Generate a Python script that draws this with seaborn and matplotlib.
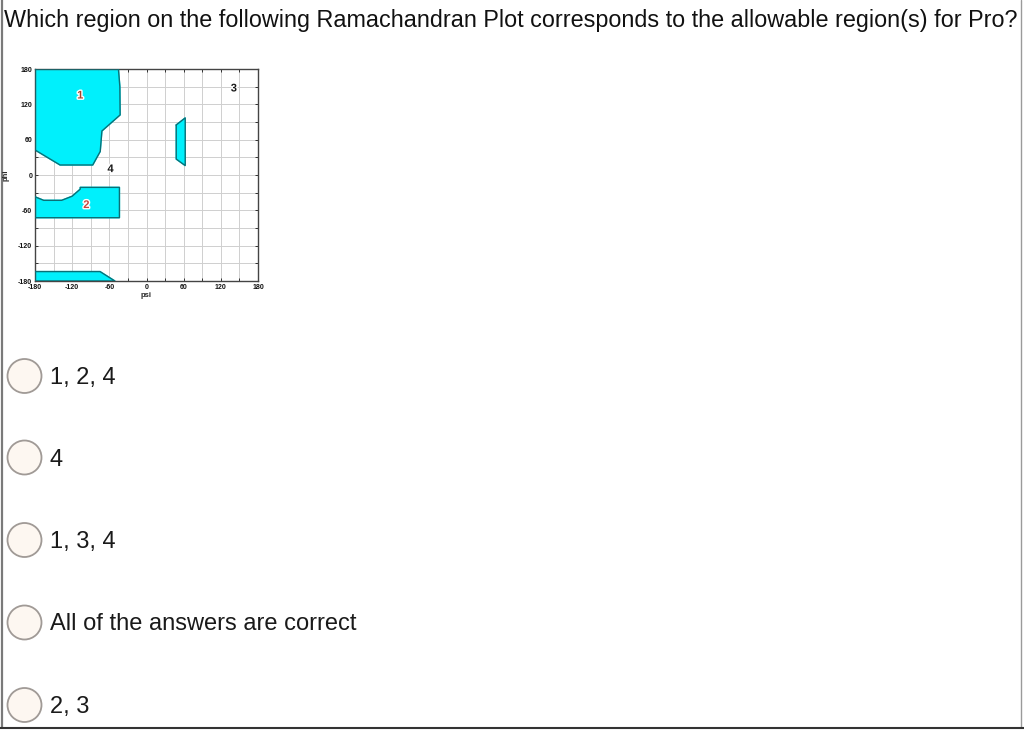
import matplotlib
matplotlib.use("Agg")
import matplotlib.pyplot as plt
import matplotlib.patheffects as pe
from matplotlib.patches import Circle
import seaborn as sns
import pandas as pd

# ---- data ----
title_text = "Which region on the following Ramachandran Plot corresponds to the allowable region(s) for Pro?"
options = ["1, 2, 4", "4", "1, 3, 4", "All of the answers are correct", "2, 3"]

tick_values = [-180, -120, -60, 0, 60, 120, 180]
tick_labels = ["-180", "-120", "-60", "0", "60", "120", "180"]
x_label = "psi"
y_label = "phi"

region1_x = [-180, -45.3, -43, -42.6, -72, -74.7, -86.8, -139.6, -180]
region1_y = [180, 180, 150, 102, 74.7, 40, 17, 17, 42.5]
region2_x = [-180, -166, -137, -120, -107, -107, -43.7, -43.7, -180]
region2_y = [-37, -43, -43, -36, -24, -21, -21, -72.5, -72.5]
region_bottom_x = [-180, -75, -51, -180]
region_bottom_y = [-164, -164, -180, -180]
region_small_x = [48, 62.5, 62.5, 48]
region_small_y = [85, 97, 16, 27]

label_names = ["1", "2", "3", "4"]
label_x = [-107, -97, 141, -58]
label_y = [135, -51, 147, 10]
label_colors = ["#a5452c", "#c8463f", "#1a1a1a", "#1a1a1a"]

# ---- figure ----
sns.set_theme(style="white")
plt.rcParams["font.family"] = ["Liberation Sans", "DejaVu Sans"]

fig = plt.figure(figsize=(10.24, 7.33), dpi=100)
fig.patch.set_facecolor("white")

# overlay in pixel coordinates for the question page
ov = fig.add_axes([0, 0, 1, 1], zorder=0)
ov.set_xlim(0, 1024)
ov.set_ylim(733, 0)
ov.axis("off")
ov.patch.set_alpha(0)

ov.plot([2, 2], [0, 727], color="#7a7a7a", lw=1.6)
ov.plot([1021, 1021], [0, 727], color="#9a9a9a", lw=1.0)
ov.plot([0, 1024], [727.5, 727.5], color="#333333", lw=1.5)

ov.text(4, 21, title_text, fontsize=16.8, color="#111111", va="center", ha="left")

opt_y = [377, 458.5, 541, 623.5, 706]
for label, yy in zip(options, opt_y):
    ov.add_patch(Circle((24.5, yy - 1), 17, facecolor="#fdf7f1", edgecolor="#a09a96", lw=1.3))
    ov.text(50, yy + 1, label, fontsize=17, color="#1a1a1a", va="center", ha="left")

# ---- Ramachandran plot ----
ax = fig.add_axes([35 / 1024, 1 - 281 / 733, 223 / 1024, 212 / 733], zorder=2)
ax.set_facecolor("white")

regions = [
    (region1_x, region1_y),
    (region2_x, region2_y),
    (region_bottom_x, region_bottom_y),
    (region_small_x, region_small_y),
]
for rx, ry in regions:
    ax.fill(rx, ry, color="#00f0fc", zorder=2)
    df = pd.DataFrame({"x": rx + [rx[0]], "y": ry + [ry[0]]})
    sns.lineplot(data=df, x="x", y="y", sort=False, estimator=None,
                 color="#0b6f76", lw=1.0, ax=ax, zorder=3)

for name, lx, ly, c in zip(label_names, label_x, label_y, label_colors):
    ax.text(lx, ly, name, fontsize=8, fontweight="bold", color=c,
            ha="center", va="center", zorder=4,
            path_effects=[pe.withStroke(linewidth=2.0, foreground="white")])

ax.set_xlim(-180, 180)
ax.set_ylim(-180, 180)
ax.set_xticks(tick_values)
ax.set_xticklabels(tick_labels)
ax.set_yticks(tick_values)
ax.set_yticklabels(tick_labels)
ax.set_xticks(range(-180, 181, 30), minor=True)
ax.set_yticks(range(-180, 181, 30), minor=True)
ax.grid(True, which="both", color="#cfcfcf", lw=0.7, zorder=0)
ax.set_axisbelow(True)
ax.tick_params(which="both", direction="in", length=2.5, width=0.7, color="#333333",
               top=True, right=True, bottom=True, left=True, labelsize=5, pad=2)
for t in ax.get_xticklabels() + ax.get_yticklabels():
    t.set_fontweight("bold")
    t.set_color("#111111")
for s in ax.spines.values():
    s.set_color("#444444")
    s.set_linewidth(1.0)
    s.set_visible(True)
ax.set_xlabel(x_label, fontsize=5.5, fontweight="bold", labelpad=1)
ax.set_ylabel(y_label, fontsize=5.5, fontweight="bold", labelpad=6)

fig.savefig("out.png", dpi=100, facecolor="white")
